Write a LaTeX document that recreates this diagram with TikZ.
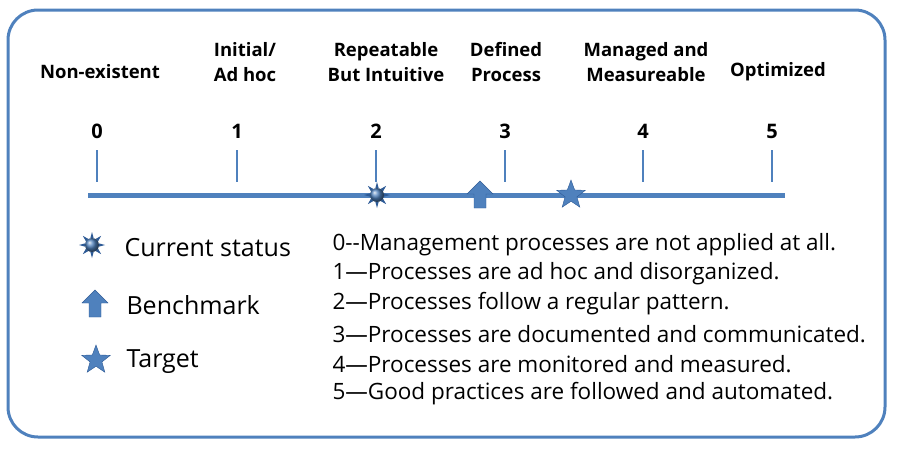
\documentclass[tikz,border=0pt]{standalone}
\usepackage{fontspec}
\setmainfont{Open Sans}
\usetikzlibrary{shapes.geometric,calc}
\definecolor{bl}{RGB}{79,129,189}
\definecolor{dbl}{RGB}{45,90,150}
\begin{document}
\begin{tikzpicture}[x=1pt,y=-1pt,
  lab/.style={font=\bfseries\fontsize{18.5}{25}\selectfont,align=center},
  num/.style={font=\bfseries\fontsize{20}{22}\selectfont},
  tick/.style={bl,line width=1.3pt},
  txt/.style={font=\fontsize{22.5}{24}\selectfont,anchor=west},
  leg/.style={font=\fontsize{25}{28}\selectfont,anchor=west}]
\useasboundingbox (0,0) rectangle (897,448);
\draw[bl,line width=3pt,rounded corners=30] (8,10) rectangle (885,437);
\draw[bl,line width=5pt] (88,195) coordinate (L) -- (785,195) coordinate (R);
\foreach \x/\n in {97/0,237/1,376/2,505/3,643/4,772/5}{
  \node[num] (n\n) at (\x,131) {\n};
  \draw[tick] (\x,150) -- (\x,182);
}
\node[lab] (l0) at (100,72) {Non-existent};
\node[lab] (l1) at (245,62) {Initial/\\Ad hoc};
\node[lab] (l2) at (386,62) {Repeatable\\But Intuitive};
\node[lab] (l3) at (506,62) {Defined\\Process};
\node[lab] (l4) at (646,62) {Managed and\\Measureable};
\node[lab] (l5) at (778,72) {Optimized};
\newcommand{\mysun}[2]{%
  \foreach \a in {0,45,...,315}{\fill[dbl] ($(#1,#2)+(\a:13)$) -- ($(#1,#2)+(\a+14:7)$) -- ($(#1,#2)+(\a-14:7)$) -- cycle;}
  \shade[ball color=bl] (#1,#2) circle (7);}
\newcommand{\myarrow}[2]{%
  \fill[bl,draw=dbl] (#1,#2-14) -- (#1+13,#2-1) -- (#1+6,#2-1) -- (#1+6,#2+13) -- (#1-6,#2+13) -- (#1-6,#2-1) -- (#1-13,#2-1) -- cycle;}
\newcommand{\mystar}[2]{%
  \node[star,star points=5,star point ratio=2.4,fill=bl,draw=dbl,minimum size=30pt,inner sep=0pt] at (#1,#2) {};}
\mysun{377}{195}
\myarrow{480}{195}
\mystar{571}{195}
\mysun{92}{245}
\myarrow{95}{304}
\mystar{96}{360}
\node[leg] (c) at (121,248) {Current status};
\node[leg] (b) at (123,305) {Benchmark};
\node[leg] (t) at (123,362) {Target};
\node[txt] (t0) at (329,245) {0-{}-Management processes are not applied at all.};
\node[txt] (t1) at (329,274) {1—Processes are ad hoc and disorganized.};
\node[txt] (t2) at (329,304) {2—Processes follow a regular pattern.};
\node[txt] (t3) at (329,334) {3—Processes are documented and communicated.};
\node[txt] (t4) at (329,364) {4—Processes are monitored and measured.};
\node[txt] (t5) at (329,394) {5—Good practices are followed and automated.};
\end{tikzpicture}
\end{document}
